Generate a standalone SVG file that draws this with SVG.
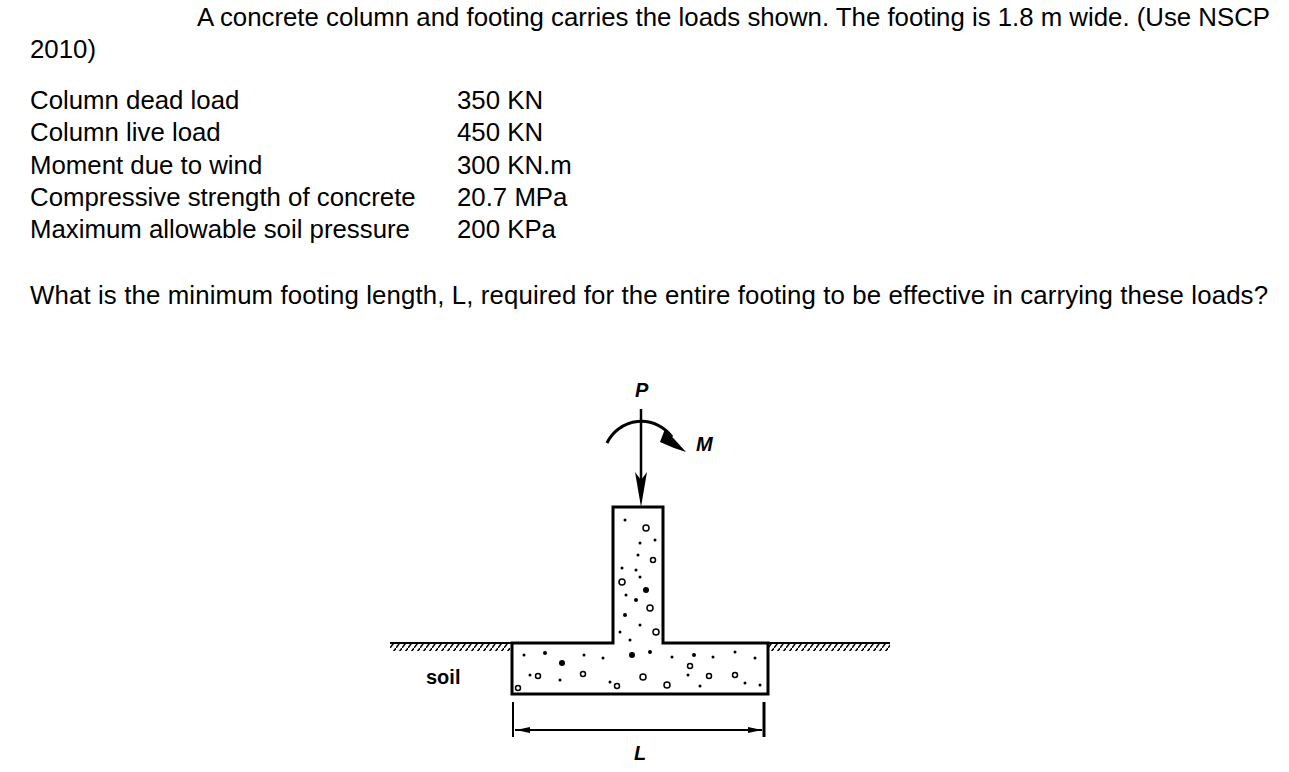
<svg xmlns="http://www.w3.org/2000/svg" width="1289" height="772" viewBox="0 0 1289 772">
<style>
.t{font-family:"Liberation Sans",Arial,sans-serif;font-size:25.8px;fill:#000}
.f{font-family:"Liberation Sans",Arial,sans-serif;font-weight:bold;font-style:italic;font-size:20px;fill:#000}
.ln{stroke:#000;stroke-width:3;fill:none}
.d{fill:#000}
</style>
<defs>
<pattern id="h" width="6" height="8" patternUnits="userSpaceOnUse"><path d="M0 8 L6 0" stroke="#000" stroke-width="1.5"/></pattern>
</defs>
<rect width="1289" height="772" fill="#fff"/>
<g id="text">
<text class="t" x="197" y="26" textLength="1073">A concrete column and footing carries the loads shown. The footing is 1.8 m wide. (Use NSCP</text>
<text class="t" x="30" y="58">2010)</text>
<text class="t" x="30" y="109">Column dead load</text><text class="t" x="457" y="109">350 KN</text>
<text class="t" x="30" y="141">Column live load</text><text class="t" x="457" y="141">450 KN</text>
<text class="t" x="30" y="174">Moment due to wind</text><text class="t" x="457" y="174">300 KN.m</text>
<text class="t" x="30" y="206">Compressive strength of concrete</text><text class="t" x="457" y="206">20.7 MPa</text>
<text class="t" x="30" y="238">Maximum allowable soil pressure</text><text class="t" x="457" y="238">200 KPa</text>
<text class="t" x="30" y="304" textLength="1238">What is the minimum footing length, L, required for the entire footing to be effective in carrying these loads?</text>
</g>
<g id="ground">
<rect x="390" y="643" width="120" height="8" fill="url(#h)"/>
<rect x="768" y="643" width="122" height="8" fill="url(#h)"/>
<line x1="390" y1="643" x2="512" y2="643" stroke="#000" stroke-width="2"/>
<line x1="766" y1="643" x2="890" y2="643" stroke="#000" stroke-width="2"/>
<text class="f" x="426" y="684" style="font-style:normal">soil</text>
</g>
<g id="footing">
<path class="ln" d="M613 507 H663 V643 H768 V694 H512 V643 H613 Z" fill="#fff"/>
<g class="d">
<circle cx="625" cy="520" r="1.5"/><circle cx="646" cy="528" r="3" fill="none" stroke="#000" stroke-width="1.5"/><circle cx="640" cy="543" r="1.5"/><circle cx="655" cy="540" r="1.5"/><circle cx="638" cy="555" r="1.5"/><circle cx="653" cy="560" r="2.5" fill="none" stroke="#000" stroke-width="1.5"/><circle cx="622" cy="568" r="1.5"/><circle cx="636" cy="570" r="1.5"/><circle cx="622" cy="582" r="3" fill="none" stroke="#000" stroke-width="1.5"/><circle cx="646" cy="590" r="3"/><circle cx="640" cy="577" r="1.5"/><circle cx="626" cy="595" r="1.5"/><circle cx="636" cy="600" r="2"/><circle cx="650" cy="608" r="3" fill="none" stroke="#000" stroke-width="1.5"/><circle cx="625" cy="615" r="2"/><circle cx="640" cy="625" r="1.5"/><circle cx="656" cy="632" r="3" fill="none" stroke="#000" stroke-width="1.5"/><circle cx="620" cy="632" r="1.5"/><circle cx="630" cy="640" r="1.5"/>
<circle cx="524" cy="655" r="1.5"/><circle cx="545" cy="653" r="2"/><circle cx="562" cy="663" r="3"/><circle cx="584" cy="655" r="1.5"/><circle cx="603" cy="658" r="1.5"/><circle cx="632" cy="655" r="3"/><circle cx="650" cy="652" r="2"/><circle cx="672" cy="657" r="1.5"/><circle cx="694" cy="655" r="2"/><circle cx="713" cy="657" r="1.5"/><circle cx="735" cy="652" r="1.5"/><circle cx="755" cy="658" r="1.5"/>
<circle cx="530" cy="675" r="1.5"/><circle cx="538" cy="676" r="2.5" fill="none" stroke="#000" stroke-width="1.5"/><circle cx="560" cy="680" r="1.5"/><circle cx="583" cy="674" r="2.5" fill="none" stroke="#000" stroke-width="1.5"/><circle cx="610" cy="682" r="1.5"/><circle cx="643" cy="677" r="3" fill="none" stroke="#000" stroke-width="1.5"/><circle cx="667" cy="685" r="3" fill="none" stroke="#000" stroke-width="1.5"/><circle cx="688" cy="675" r="1.5"/><circle cx="690" cy="666" r="2.5" fill="none" stroke="#000" stroke-width="1.5"/><circle cx="709" cy="676" r="2.5" fill="none" stroke="#000" stroke-width="1.5"/><circle cx="735" cy="675" r="2.5" fill="none" stroke="#000" stroke-width="1.5"/><circle cx="745" cy="683" r="1.5"/><circle cx="760" cy="685" r="1.5"/><circle cx="518" cy="688" r="2.5" fill="none" stroke="#000" stroke-width="1.5"/><circle cx="617" cy="686" r="2.5" fill="none" stroke="#000" stroke-width="1.5"/><circle cx="700" cy="686" r="1.5"/>
</g>
</g>
<g id="loads">
<line x1="641" y1="409" x2="641" y2="480" stroke="#000" stroke-width="2.5"/>
<path d="M641 507 L635 472 L641 480 L647 472 Z" fill="#000"/>
<text class="f" x="635" y="397">P</text>
<path d="M607 443 A38 38 0 0 1 672 437" stroke="#000" stroke-width="3" fill="none"/>
<path d="M665 429 L686 452 L674 448 L660 442 Z" fill="#000"/>
<text class="f" x="696" y="451">M</text>
</g>
<g id="dimension">
<line x1="513" y1="702" x2="513" y2="737" stroke="#000" stroke-width="2"/>
<line x1="764" y1="702" x2="764" y2="737" stroke="#000" stroke-width="3"/>
<line x1="515" y1="730" x2="762" y2="730" stroke="#000" stroke-width="2"/>
<path d="M516 730 L530 727 L530 733Z M762 730 L748 727 L748 733Z" fill="#000"/>
<text class="f" x="634" y="760">L</text>
</g>
</svg>
